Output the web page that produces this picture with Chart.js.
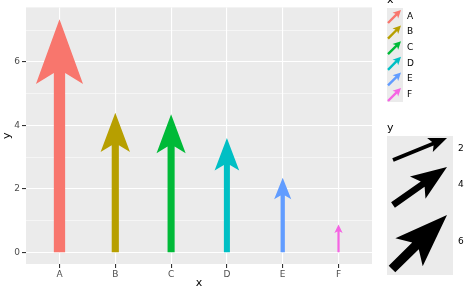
<!DOCTYPE html>
<html>
<head>
<meta charset="utf-8">
<script src="https://cdn.jsdelivr.net/npm/chart.js@4.4.0/dist/chart.umd.min.js"></script>
<style>
  html, body { margin: 0; padding: 0; background: #fff; }
</style>
</head>
<body>
<canvas id="arrowChart" width="474" height="293"></canvas>
<script>
const categories = ['A', 'B', 'C', 'D', 'E', 'F'];
const yValues = [7.35, 4.4, 4.35, 3.6, 2.35, 0.88];
const colors = ['#F8766D', '#B79F00', '#00BA38', '#00BFC4', '#619CFF', '#F564E3'];
const yTicks = [0, 2, 4, 6];
const sizeBreaks = [2, 4, 6];

const FONT = "'DejaVu Sans', sans-serif";

// arrow shape grows with the value (ggplot size scale)
function arrowDims(v) {
    const hl = 1 + 8.7 * v;
    return { w: 1 + 1.4 * v, hw: 1.5 + 3.0 * v, hl: hl, nl: 0.83 * hl };
}

function drawArrow(ctx, x0, y0, x1, y1, d, color) {
    const dx = x1 - x0, dy = y1 - y0;
    const len = Math.sqrt(dx * dx + dy * dy);
    const a = Math.atan2(dx, -dy);
    ctx.save();
    ctx.translate(x1, y1);
    ctx.rotate(a);
    ctx.beginPath();
    ctx.moveTo(0, 0);
    ctx.lineTo(d.hw, d.hl);
    ctx.lineTo(d.w / 2, d.nl);
    ctx.lineTo(d.w / 2, len);
    ctx.lineTo(-d.w / 2, len);
    ctx.lineTo(-d.w / 2, d.nl);
    ctx.lineTo(-d.hw, d.hl);
    ctx.closePath();
    ctx.fillStyle = color;
    ctx.fill();
    ctx.restore();
}

const panelBg = {
    id: 'panelBg',
    beforeDraw(chart) {
        const a = chart.chartArea;
        const ctx = chart.ctx;
        ctx.save();
        ctx.fillStyle = '#EBEBEB';
        ctx.fillRect(a.left, a.top, a.right - a.left, a.bottom - a.top);
        ctx.restore();
    }
};

const arrows = {
    id: 'arrows',
    afterDatasetsDraw(chart) {
        const ctx = chart.ctx;
        const xs = chart.scales.x, ys = chart.scales.y;
        const a = chart.chartArea;
        ctx.save();
        ctx.beginPath();
        ctx.rect(a.left, a.top, a.right - a.left, a.bottom - a.top);
        ctx.clip();
        yValues.forEach((v, i) => {
            const px = xs.getPixelForValue(i);
            drawArrow(ctx, px, ys.getPixelForValue(0), px, ys.getPixelForValue(v), arrowDims(v), colors[i]);
        });
        ctx.restore();
    }
};

const legends = {
    id: 'legends',
    afterDraw(chart) {
        const ctx = chart.ctx;
        ctx.save();
        // colour legend
        ctx.fillStyle = '#000';
        ctx.font = '11px ' + FONT;
        ctx.textAlign = 'left';
        ctx.textBaseline = 'alphabetic';
        ctx.fillText('x', 387, 3);
        ctx.fillStyle = '#EBEBEB';
        ctx.fillRect(387, 8, 16, 94);
        categories.forEach((c, i) => {
            const cy = 16.5 + i * 15.6;
            drawArrow(ctx, 388, cy + 6.5, 401, cy - 6.5, { w: 2.4, hw: 4, hl: 8, nl: 6.6 }, colors[i]);
            ctx.fillStyle = '#000';
            ctx.font = '9px ' + FONT;
            ctx.textBaseline = 'middle';
            ctx.fillText(c, 407, cy);
        });
        // size legend
        ctx.font = '11px ' + FONT;
        ctx.fillText('y', 387, 128);
        ctx.fillStyle = '#EBEBEB';
        ctx.fillRect(387, 136, 66, 139);
        const rows = [
            { x0: 393, y0: 160, x1: 447, y1: 138, ly: 149 },
            { x0: 393, y0: 205, x1: 447, y1: 167, ly: 185 },
            { x0: 392, y0: 269, x1: 447, y1: 215, ly: 242 }
        ];
        sizeBreaks.forEach((b, i) => {
            const r = rows[i];
            drawArrow(ctx, r.x0, r.y0, r.x1, r.y1, arrowDims(b), '#000');
            ctx.fillStyle = '#000';
            ctx.font = '9px ' + FONT;
            ctx.fillText(String(b), 458, r.ly);
        });
        ctx.restore();
    }
};

new Chart(document.getElementById('arrowChart'), {
    type: 'scatter',
    data: {
        datasets: [{
            data: categories.map((c, i) => ({ x: i, y: yValues[i] })),
            pointRadius: 0,
            pointHoverRadius: 0
        }]
    },
    options: {
        responsive: false,
        animation: false,
        devicePixelRatio: 1,
        layout: { padding: { top: 5, right: 102, left: 0, bottom: 0 } },
        plugins: {
            legend: { display: false },
            tooltip: { enabled: false }
        },
        scales: {
            x: {
                type: 'linear',
                min: -0.6,
                max: 5.6,
                afterBuildTicks: s => { s.ticks = categories.map((c, i) => ({ value: i })); },
                afterFit: s => { s.height = 29; },
                border: { display: false },
                grid: { color: '#FFFFFF', lineWidth: 1.1, tickColor: '#333333', tickLength: 4 },
                ticks: {
                    callback: v => categories[v],
                    color: '#4D4D4D',
                    font: { family: FONT, size: 9 },
                    padding: 1,
                    maxRotation: 0,
                    autoSkip: false
                },
                title: { display: true, text: 'x', color: '#000', font: { family: FONT, size: 11 }, padding: { top: 0, bottom: 3 } }
            },
            y: {
                min: -0.368,
                max: 7.72,
                afterBuildTicks: s => { s.ticks = [0, 1, 2, 3, 4, 5, 6, 7].map(v => ({ value: v })); },
                afterFit: s => { s.width = 26; },
                border: { display: false },
                grid: {
                    color: '#FFFFFF',
                    lineWidth: c => (c.tick && yTicks.includes(c.tick.value)) ? 1.1 : 0.5,
                    tickColor: c => (c.tick && yTicks.includes(c.tick.value)) ? '#333333' : 'rgba(0,0,0,0)',
                    tickLength: 4
                },
                ticks: {
                    callback: v => yTicks.includes(v) ? String(v) : '',
                    color: '#4D4D4D',
                    font: { family: FONT, size: 9 },
                    padding: 2
                },
                title: { display: true, text: 'y', color: '#000', font: { family: FONT, size: 11 }, padding: { top: 1, bottom: 0 } }
            }
        }
    },
    plugins: [panelBg, arrows, legends]
});
</script>
</body>
</html>
